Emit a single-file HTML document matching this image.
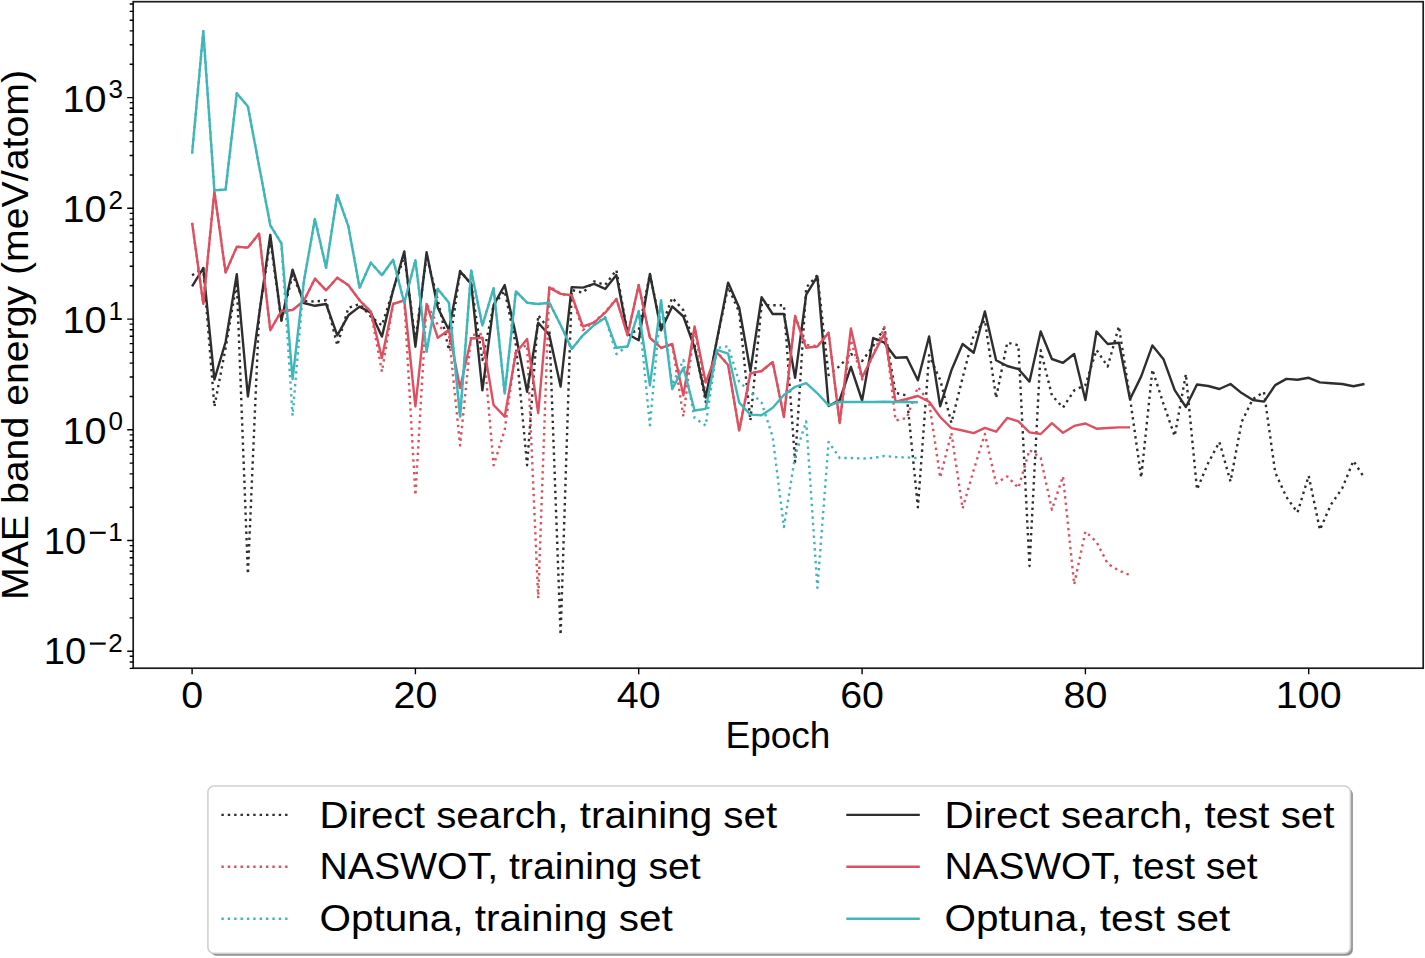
<!DOCTYPE html>
<html><head><meta charset="utf-8"><style>
html,body{margin:0;padding:0;background:#fff;width:1425px;height:958px;overflow:hidden}
svg{display:block}
</style></head><body>
<svg width="1425" height="958" viewBox="0 0 1425 958">
<rect x="0" y="0" width="1425" height="958" fill="#fff"/>
<defs><clipPath id="ax"><rect x="133.2" y="1.7" width="1290.0" height="666.5"/></clipPath></defs>
<g clip-path="url(#ax)" fill="none" stroke-linejoin="round">
<path d="M192.1,275.2 L203.3,268.0 L214.4,406.6 L225.6,348.0 L236.8,282.0 L247.9,574.0 L259.1,315.0 L270.3,240.0 L281.4,320.5 L292.6,275.0 L303.8,301.0 L314.9,301.5 L326.1,300.3 L337.3,345.4 L348.4,307.8 L359.6,304.0 L370.8,316.6 L381.9,325.4 L393.1,290.3 L404.3,256.0 L415.4,340.0 L426.6,256.0 L437.8,300.0 L448.9,350.0 L460.1,271.0 L471.2,284.0 L482.4,360.0 L493.6,305.0 L504.7,291.0 L515.9,345.0 L527.1,465.2 L538.2,315.2 L549.4,330.0 L560.6,634.9 L571.7,290.0 L582.9,292.7 L594.1,281.4 L605.2,285.0 L616.4,270.0 L627.6,334.0 L638.7,330.0 L649.9,274.0 L661.1,328.0 L672.2,297.7 L683.4,310.2 L694.6,345.0 L705.7,402.0 L716.9,340.0 L728.1,287.0 L739.2,312.0 L750.4,420.5 L761.6,305.0 L772.7,305.2 L783.9,305.2 L795.1,462.0 L806.2,287.6 L817.4,275.0 L828.6,375.0 L839.7,366.0 L850.9,354.0 L862.1,361.0 L873.2,346.0 L884.4,327.7 L895.6,392.9 L906.7,395.4 L917.9,507.4 L929.1,355.3 L940.2,380.0 L951.4,422.8 L962.6,377.8 L973.7,335.2 L984.9,320.2 L996.1,397.9 L1007.2,342.7 L1018.4,345.2 L1029.5,566.0 L1040.7,350.3 L1051.9,395.4 L1063.0,407.6 L1074.2,390.4 L1085.4,385.0 L1096.5,350.0 L1107.7,366.5 L1118.9,326.4 L1130.0,397.9 L1141.2,477.6 L1152.4,369.6 L1163.5,404.0 L1174.7,436.0 L1185.9,374.1 L1197.0,489.5 L1208.2,463.0 L1219.4,442.0 L1230.5,481.5 L1241.7,421.8 L1252.9,398.9 L1264.0,392.0 L1275.2,472.4 L1286.4,497.0 L1297.5,512.5 L1308.7,475.8 L1319.9,529.8 L1331.0,504.5 L1342.2,488.4 L1353.4,460.9 L1364.5,478.1" stroke="#2e2e2e" stroke-width="2.4" stroke-dasharray="2.4 3.97" stroke-linecap="butt"/>
<path d="M192.1,222.8 L203.3,303.8 L214.4,191.5 L225.6,272.6 L236.8,246.8 L247.9,247.6 L259.1,233.6 L270.3,330.2 L281.4,311.0 L292.6,310.0 L303.8,301.0 L314.9,278.7 L326.1,290.3 L337.3,277.7 L348.4,285.3 L359.6,300.3 L370.8,311.6 L381.9,371.7 L393.1,304.0 L404.3,300.3 L415.4,495.3 L426.6,304.0 L437.8,325.0 L448.9,335.0 L460.1,445.5 L471.2,335.0 L482.4,334.0 L493.6,465.4 L504.7,430.0 L515.9,350.0 L527.1,345.0 L538.2,598.3 L549.4,286.0 L560.6,294.0 L571.7,296.0 L582.9,330.0 L594.1,322.0 L605.2,312.0 L616.4,299.0 L627.6,335.0 L638.7,285.0 L649.9,338.0 L661.1,348.0 L672.2,344.0 L683.4,416.5 L694.6,327.0 L705.7,395.0 L716.9,352.0 L728.1,365.0 L739.2,430.0 L750.4,373.0 L761.6,371.0 L772.7,362.0 L783.9,416.0 L795.1,316.0 L806.2,345.0 L817.4,346.0 L828.6,333.0 L839.7,423.0 L850.9,340.0 L862.1,379.4 L873.2,355.0 L884.4,327.0 L895.6,420.4 L906.7,418.0 L917.9,387.0 L929.1,402.0 L940.2,477.6 L951.4,433.0 L962.6,508.6 L973.7,470.0 L984.9,434.0 L996.1,483.3 L1007.2,476.4 L1018.4,487.9 L1029.5,450.0 L1040.7,458.0 L1051.9,509.7 L1063.0,476.4 L1074.2,584.4 L1085.4,531.5 L1096.5,541.9 L1107.7,563.7 L1118.9,570.6 L1130.0,575.2" stroke="#dd5060" stroke-width="2.4" stroke-dasharray="2.4 3.97" stroke-linecap="butt"/>
<path d="M192.1,153.5 L203.3,31.3 L214.4,190.4 L225.6,189.5 L236.8,93.3 L247.9,106.5 L259.1,166.0 L270.3,225.3 L281.4,243.3 L292.6,415.6 L303.8,282.0 L314.9,218.9 L326.1,267.7 L337.3,195.0 L348.4,226.4 L359.6,287.8 L370.8,262.7 L381.9,275.2 L393.1,259.7 L404.3,302.8 L415.4,260.2 L426.6,351.6 L437.8,288.9 L448.9,302.7 L460.1,416.7 L471.2,270.5 L482.4,325.5 L493.6,288.1 L504.7,393.5 L515.9,291.4 L527.1,302.7 L538.2,304.0 L549.4,302.7 L560.6,325.0 L571.7,349.0 L582.9,335.3 L594.1,325.2 L605.2,317.0 L616.4,354.0 L627.6,346.0 L638.7,311.0 L649.9,425.3 L661.1,302.0 L672.2,385.0 L683.4,360.0 L694.6,418.0 L705.7,425.6 L716.9,348.0 L728.1,346.3 L739.2,381.8 L750.4,392.2 L761.6,402.6 L772.7,437.0 L783.9,527.0 L795.1,455.8 L806.2,421.3 L817.4,587.9 L828.6,442.0 L839.7,458.0 L850.9,458.0 L862.1,458.5 L873.2,458.0 L884.4,456.0 L895.6,457.0 L906.7,457.5 L917.9,458.0" stroke="#40b6bb" stroke-width="2.4" stroke-dasharray="2.4 3.97" stroke-linecap="butt"/>
<path d="M192.1,286.4 L203.3,268.0 L214.4,379.6 L225.6,342.0 L236.8,274.2 L247.9,396.5 L259.1,315.0 L270.3,234.9 L281.4,320.5 L292.6,269.6 L303.8,303.0 L314.9,305.8 L326.1,304.0 L337.3,335.4 L348.4,315.3 L359.6,306.6 L370.8,312.8 L381.9,336.6 L393.1,290.3 L404.3,251.4 L415.4,346.7 L426.6,252.2 L437.8,307.7 L448.9,330.0 L460.1,271.4 L471.2,283.9 L482.4,390.4 L493.6,305.2 L504.7,285.1 L515.9,335.0 L527.1,391.7 L538.2,322.7 L549.4,335.3 L560.6,386.6 L571.7,287.1 L582.9,287.6 L594.1,283.9 L605.2,288.9 L616.4,275.1 L627.6,334.0 L638.7,340.3 L649.9,273.9 L661.1,330.3 L672.2,306.4 L683.4,316.5 L694.6,347.8 L705.7,397.5 L716.9,340.0 L728.1,282.6 L739.2,307.7 L750.4,371.0 L761.6,297.2 L772.7,314.0 L783.9,314.0 L795.1,377.9 L806.2,294.7 L817.4,276.4 L828.6,406.0 L839.7,400.0 L850.9,366.9 L862.1,400.5 L873.2,338.0 L884.4,342.7 L895.6,357.8 L906.7,357.3 L917.9,380.3 L929.1,336.5 L940.2,406.2 L951.4,370.3 L962.6,344.0 L973.7,352.8 L984.9,311.4 L996.1,360.3 L1007.2,366.0 L1018.4,369.0 L1029.5,381.6 L1040.7,331.5 L1051.9,359.0 L1063.0,362.8 L1074.2,354.0 L1085.4,400.0 L1096.5,331.5 L1107.7,344.0 L1118.9,342.7 L1130.0,399.2 L1141.2,376.4 L1152.4,345.4 L1163.5,359.2 L1174.7,390.2 L1185.9,407.0 L1197.0,384.5 L1208.2,386.0 L1219.4,389.0 L1230.5,384.0 L1241.7,393.1 L1252.9,400.0 L1264.0,401.6 L1275.2,385.1 L1286.4,378.9 L1297.5,379.7 L1308.7,377.8 L1319.9,382.4 L1331.0,383.3 L1342.2,384.0 L1353.4,386.3 L1364.5,384.0" stroke="#2e2e2e" stroke-width="2.4" stroke-linecap="butt"/>
<path d="M192.1,222.8 L203.3,303.8 L214.4,191.5 L225.6,272.6 L236.8,246.8 L247.9,247.6 L259.1,233.6 L270.3,330.2 L281.4,311.0 L292.6,310.0 L303.8,301.0 L314.9,278.7 L326.1,290.3 L337.3,277.7 L348.4,285.3 L359.6,300.3 L370.8,311.6 L381.9,358.0 L393.1,304.0 L404.3,300.3 L415.4,406.3 L426.6,304.0 L437.8,337.8 L448.9,330.0 L460.1,388.0 L471.2,338.5 L482.4,337.8 L493.6,405.0 L504.7,416.7 L515.9,352.8 L527.1,339.0 L538.2,413.0 L549.4,287.6 L560.6,293.9 L571.7,295.2 L582.9,326.5 L594.1,322.7 L605.2,312.7 L616.4,298.9 L627.6,335.3 L638.7,285.1 L649.9,337.8 L661.1,347.8 L672.2,344.0 L683.4,395.4 L694.6,326.5 L705.7,382.5 L716.9,352.5 L728.1,365.0 L739.2,430.5 L750.4,373.4 L761.6,371.0 L772.7,361.9 L783.9,417.0 L795.1,316.5 L806.2,347.8 L817.4,346.5 L828.6,332.8 L839.7,423.0 L850.9,328.5 L862.1,377.5 L873.2,355.0 L884.4,333.5 L895.6,401.6 L906.7,399.0 L917.9,396.0 L929.1,401.8 L940.2,417.0 L951.4,428.1 L962.6,430.5 L973.7,433.1 L984.9,427.9 L996.1,431.7 L1007.2,417.9 L1018.4,421.3 L1029.5,432.4 L1040.7,434.0 L1051.9,423.2 L1063.0,432.8 L1074.2,425.9 L1085.4,423.5 L1096.5,428.7 L1107.7,428.0 L1118.9,427.4 L1130.0,427.4" stroke="#dd5060" stroke-width="2.4" stroke-linecap="butt"/>
<path d="M192.1,153.5 L203.3,31.3 L214.4,190.4 L225.6,189.5 L236.8,93.3 L247.9,106.5 L259.1,166.0 L270.3,225.3 L281.4,243.3 L292.6,379.0 L303.8,282.0 L314.9,218.9 L326.1,267.7 L337.3,195.0 L348.4,226.4 L359.6,287.8 L370.8,262.7 L381.9,275.2 L393.1,259.7 L404.3,302.8 L415.4,260.2 L426.6,351.6 L437.8,288.9 L448.9,302.7 L460.1,416.7 L471.2,270.5 L482.4,325.5 L493.6,288.1 L504.7,393.5 L515.9,291.4 L527.1,302.7 L538.2,304.0 L549.4,302.7 L560.6,325.0 L571.7,349.0 L582.9,335.3 L594.1,325.2 L605.2,317.7 L616.4,347.8 L627.6,346.5 L638.7,311.5 L649.9,385.4 L661.1,300.2 L672.2,389.1 L683.4,367.8 L694.6,410.5 L705.7,408.9 L716.9,349.9 L728.1,353.6 L739.2,402.6 L750.4,414.6 L761.6,415.2 L772.7,407.8 L783.9,395.0 L795.1,386.8 L806.2,383.2 L817.4,393.3 L828.6,405.4 L839.7,402.0 L850.9,402.0 L862.1,402.0 L873.2,402.0 L884.4,401.8 L895.6,402.0 L906.7,402.0 L917.9,402.3" stroke="#40b6bb" stroke-width="2.4" stroke-linecap="butt"/>
</g>
<rect x="133.2" y="1.7" width="1290.0" height="666.5" fill="none" stroke="#1c1c1c" stroke-width="1.7"/>
<path d="M129.7,668.4H133.2 M129.7,662.0H133.2 M129.7,656.3H133.2 M127.2,651.3H133.2 M129.7,617.9H133.2 M129.7,598.4H133.2 M129.7,584.6H133.2 M129.7,573.9H133.2 M129.7,565.1H133.2 M129.7,557.7H133.2 M129.7,551.3H133.2 M129.7,545.6H133.2 M127.2,540.5H133.2 M129.7,507.2H133.2 M129.7,487.7H133.2 M129.7,473.9H133.2 M129.7,463.1H133.2 M129.7,454.4H133.2 M129.7,447.0H133.2 M129.7,440.5H133.2 M129.7,434.9H133.2 M127.2,429.8H133.2 M129.7,396.5H133.2 M129.7,377.0H133.2 M129.7,363.1H133.2 M129.7,352.4H133.2 M129.7,343.6H133.2 M129.7,336.2H133.2 M129.7,329.8H133.2 M129.7,324.1H133.2 M127.2,319.1H133.2 M129.7,285.7H133.2 M129.7,266.2H133.2 M129.7,252.4H133.2 M129.7,241.7H133.2 M129.7,232.9H133.2 M129.7,225.5H133.2 M129.7,219.1H133.2 M129.7,213.4H133.2 M127.2,208.3H133.2 M129.7,175.0H133.2 M129.7,155.5H133.2 M129.7,141.6H133.2 M129.7,130.9H133.2 M129.7,122.1H133.2 M129.7,114.7H133.2 M129.7,108.3H133.2 M129.7,102.6H133.2 M127.2,97.6H133.2 M129.7,64.2H133.2 M129.7,44.7H133.2 M129.7,30.9H133.2 M129.7,20.2H133.2 M129.7,11.4H133.2 M129.7,4.0H133.2 M192.1,668.2V674.2 M415.4,668.2V674.2 M638.7,668.2V674.2 M862.1,668.2V674.2 M1085.4,668.2V674.2 M1308.7,668.2V674.2" stroke="#000" stroke-width="1.4" fill="none"/>
<g font-family="'Liberation Sans', sans-serif" fill="#000">
<text x="192.1" y="707.5" font-size="37.5" text-anchor="middle" textLength="21.9" lengthAdjust="spacingAndGlyphs">0</text>
<text x="415.4" y="707.5" font-size="37.5" text-anchor="middle" textLength="43.8" lengthAdjust="spacingAndGlyphs">20</text>
<text x="638.7" y="707.5" font-size="37.5" text-anchor="middle" textLength="43.8" lengthAdjust="spacingAndGlyphs">40</text>
<text x="862.1" y="707.5" font-size="37.5" text-anchor="middle" textLength="43.8" lengthAdjust="spacingAndGlyphs">60</text>
<text x="1085.4" y="707.5" font-size="37.5" text-anchor="middle" textLength="43.8" lengthAdjust="spacingAndGlyphs">80</text>
<text x="1308.7" y="707.5" font-size="37.5" text-anchor="middle" textLength="65.7" lengthAdjust="spacingAndGlyphs">100</text>
<text x="106.5" y="111.6" font-size="37.5" text-anchor="end" textLength="44" lengthAdjust="spacingAndGlyphs">10</text>
<text x="108.5" y="98.2" font-size="26">3</text>
<text x="106.5" y="222.3" font-size="37.5" text-anchor="end" textLength="44" lengthAdjust="spacingAndGlyphs">10</text>
<text x="108.5" y="208.9" font-size="26">2</text>
<text x="106.5" y="333.1" font-size="37.5" text-anchor="end" textLength="44" lengthAdjust="spacingAndGlyphs">10</text>
<text x="108.5" y="319.7" font-size="26">1</text>
<text x="106.5" y="443.8" font-size="37.5" text-anchor="end" textLength="44" lengthAdjust="spacingAndGlyphs">10</text>
<text x="108.5" y="430.4" font-size="26">0</text>
<text x="86.2" y="553.5" font-size="37.5" text-anchor="end" textLength="42.5" lengthAdjust="spacingAndGlyphs">10</text>
<rect x="89.9" y="531.7" width="15.8" height="2.2"/>
<text x="122.8" y="540.8" font-size="26" text-anchor="end">1</text>
<text x="86.2" y="664.3" font-size="37.5" text-anchor="end" textLength="42.5" lengthAdjust="spacingAndGlyphs">10</text>
<rect x="89.9" y="642.5" width="15.8" height="2.2"/>
<text x="122.8" y="651.6" font-size="26" text-anchor="end">2</text>
<text x="778" y="747.7" font-size="37" text-anchor="middle">Epoch</text>
<text transform="translate(28,335) rotate(-90)" font-size="37" text-anchor="middle" textLength="530" lengthAdjust="spacingAndGlyphs">MAE band energy (meV/atom)</text>
</g>
<rect x="210.4" y="788.5" width="1142.5" height="167.20000000000005" rx="6" fill="#888" opacity="0.9"/>
<rect x="207.9" y="786" width="1142.5" height="167.20000000000005" rx="6" fill="#fff" stroke="#cfcfcf" stroke-width="1.6"/>
<g font-family="'Liberation Sans', sans-serif" fill="#000" font-size="37">
<path d="M221.4,814.9H288" stroke="#2e2e2e" stroke-width="2.4" stroke-dasharray="2.4 3.97" fill="none"/>
<path d="M846.3,814.9H919.8" stroke="#2e2e2e" stroke-width="2.4" fill="none"/>
<text x="319.5" y="827.5" textLength="457.7" lengthAdjust="spacingAndGlyphs">Direct search, training set</text>
<text x="944.5" y="827.5" textLength="390.0" lengthAdjust="spacingAndGlyphs">Direct search, test set</text>
<path d="M221.4,866.8H288" stroke="#dd5060" stroke-width="2.4" stroke-dasharray="2.4 3.97" fill="none"/>
<path d="M846.3,866.8H919.8" stroke="#dd5060" stroke-width="2.4" fill="none"/>
<text x="319.5" y="879.4" textLength="381.2" lengthAdjust="spacingAndGlyphs">NASWOT, training set</text>
<text x="944.5" y="879.4" textLength="313.1" lengthAdjust="spacingAndGlyphs">NASWOT, test set</text>
<path d="M221.4,918.8H288" stroke="#40b6bb" stroke-width="2.4" stroke-dasharray="2.4 3.97" fill="none"/>
<path d="M846.3,918.8H919.8" stroke="#40b6bb" stroke-width="2.4" fill="none"/>
<text x="319.5" y="931.4" textLength="353.3" lengthAdjust="spacingAndGlyphs">Optuna, training set</text>
<text x="944.5" y="931.4" textLength="285.8" lengthAdjust="spacingAndGlyphs">Optuna, test set</text>
</g>
</svg>
</body></html>
